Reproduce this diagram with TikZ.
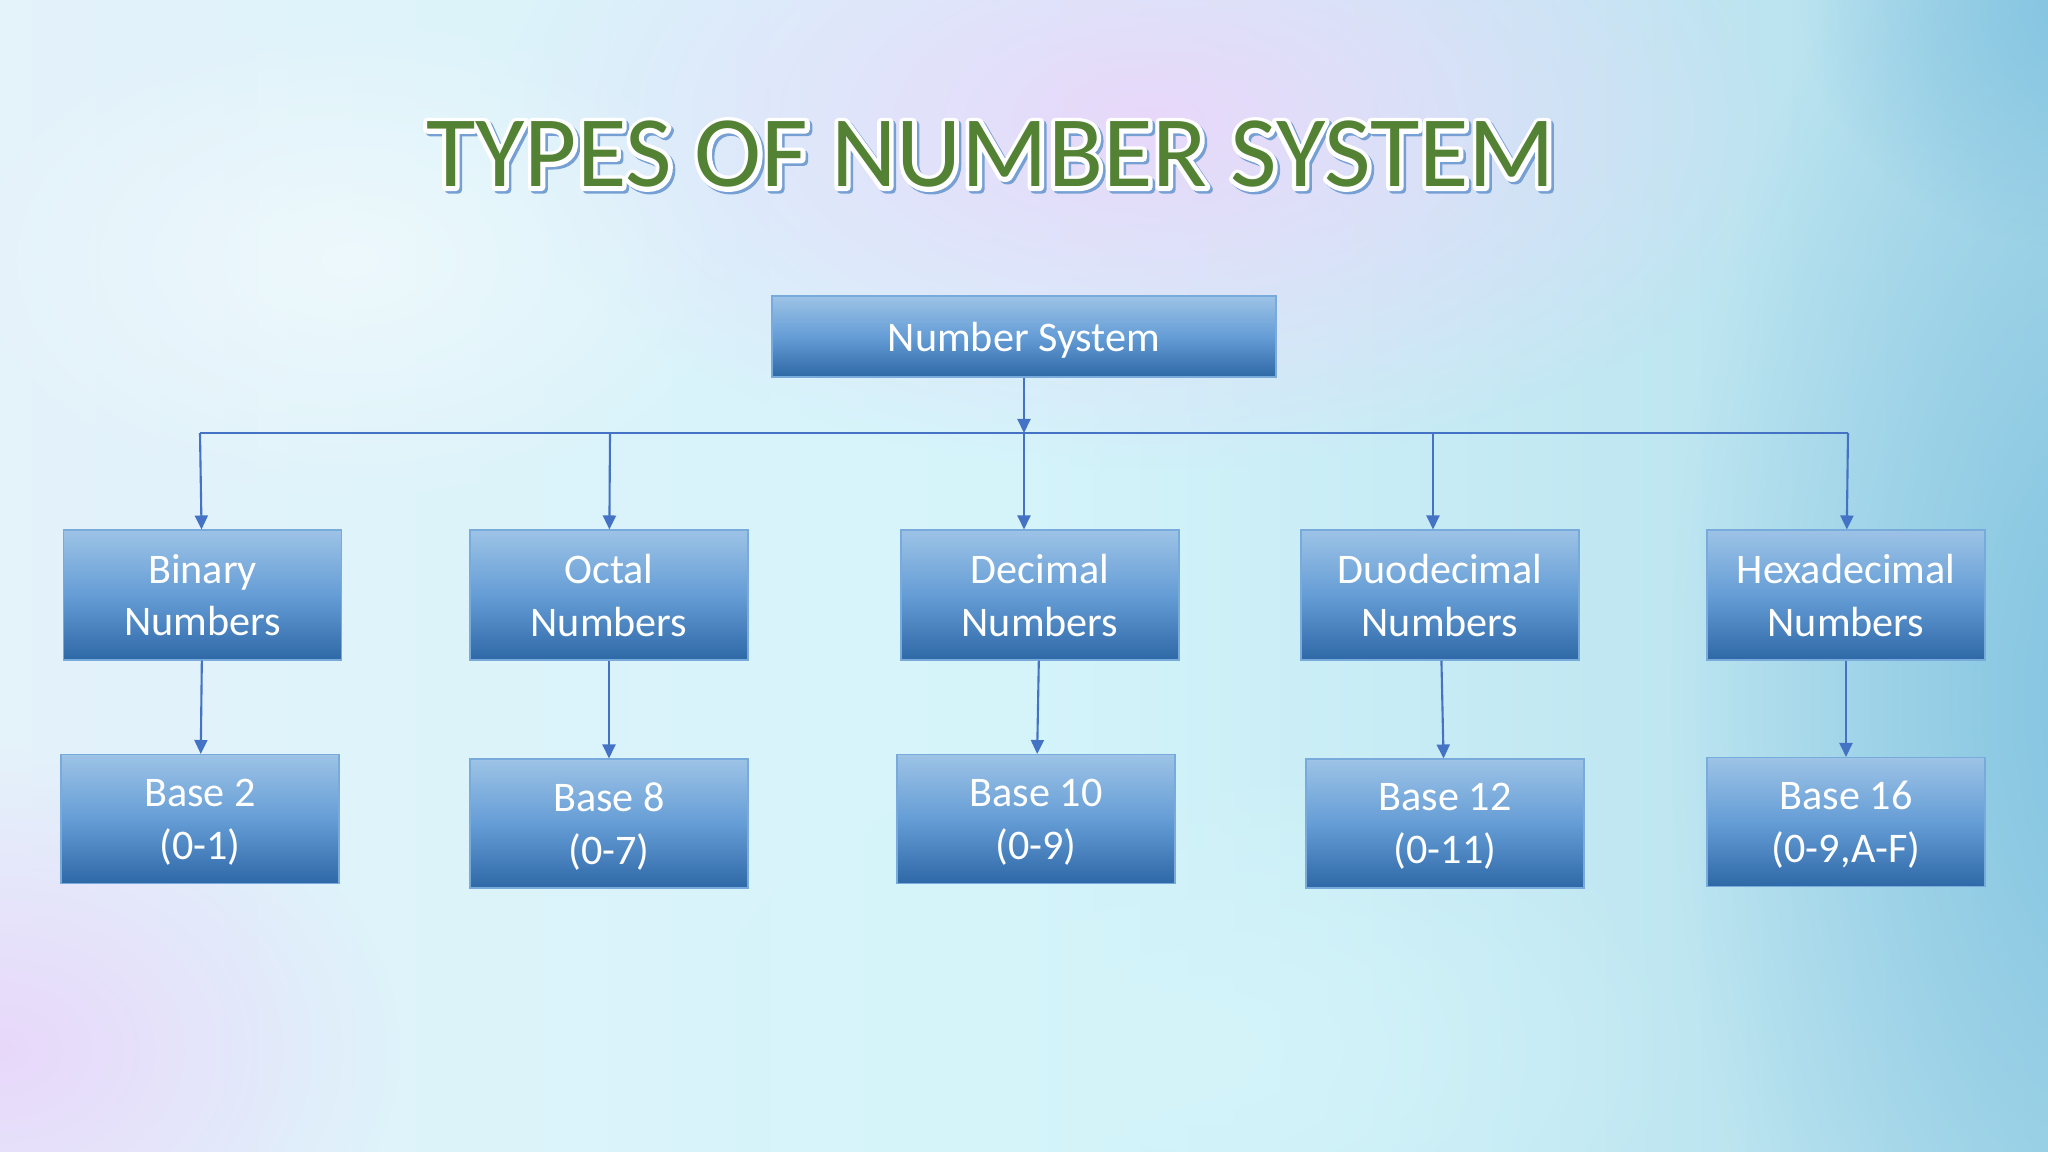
\documentclass[tikz,border=0pt]{standalone}
\usepackage{fontspec}
\setmainfont{Carlito}
\usetikzlibrary{arrows.meta,fadings}

\definecolor{bgleft}{RGB}{228,242,250}
\definecolor{bgmid}{RGB}{212,244,250}
\definecolor{bgright}{RGB}{178,222,236}
\definecolor{lavglow}{RGB}{232,216,250}
\definecolor{deepglow}{RGB}{128,194,224}
\definecolor{boxtop}{RGB}{157,195,230}
\definecolor{boxmid}{RGB}{101,157,214}
\definecolor{boxbot}{RGB}{46,104,166}
\definecolor{boxedge}{RGB}{120,170,220}
\definecolor{linkblue}{RGB}{68,114,196}
\definecolor{titlegreen}{RGB}{84,130,53}
\definecolor{titleshade}{RGB}{118,160,212}

\tikzfading[name=softglow, inner color=transparent!0, outer color=transparent!100]

\newcommand{\boxfont}{\fontsize{12}{15}\selectfont}
\newcommand{\titlefont}{\fontsize{28.8}{32}\selectfont}
% outlined text: pdf render mode fill+stroke
\newcommand{\strokedtext}[2]{\special{pdf:literal direct 2 Tr #1 w 1 j}#2\special{pdf:literal direct 0 Tr 0.4 w}}

\tikzset{
  numbox/.style={rectangle, minimum width=2.78cm, minimum height=1.30cm, inner sep=0pt,
    align=center, text=white, top color=boxtop, bottom color=boxbot, middle color=boxmid,
    draw=boxedge, line width=0.3pt, font=\boxfont, text depth=0pt},
  arr/.style={draw=linkblue, line width=0.6pt, -{Triangle[length=0.14cm,width=0.13cm]}},
  busline/.style={draw=linkblue, line width=0.6pt}
}

\begin{document}
\begin{tikzpicture}
    % Background
    \useasboundingbox (0,0) rectangle (20.48,-11.52);
    \shade[left color=bgleft, right color=bgright, middle color=bgmid] (0,0) rectangle (20.48,-11.52);
    \begin{scope}
        \clip (0,0) rectangle (20.48,-11.52);
        \fill[lavglow, path fading=softglow] (11.5,-1.2) ellipse (6.5 and 3.5);
        \fill[lavglow, path fading=softglow] (0,-10.5) ellipse (4 and 3);
        \fill[deepglow, path fading=softglow] (21.2,-7) ellipse (4.5 and 9);
        \fill[deepglow, path fading=softglow] (21,0) ellipse (3 and 2.5);
        \fill[white, opacity=0.45, path fading=softglow] (3.5,-2.6) ellipse (4 and 2.5);
        \fill[bgmid, path fading=softglow] (12,-10.5) ellipse (5 and 3);
    \end{scope}

    % Title: shadow, outline, fill
    \node[anchor=base, text=titleshade] at (9.935,-1.895) {\titlefont\strokedtext{2.4}{TYPES OF NUMBER SYSTEM}};
    \node[anchor=base, text=white] at (9.91,-1.87) {\titlefont\strokedtext{2.4}{TYPES OF NUMBER SYSTEM}};
    \node[anchor=base, text=titlegreen] (title) at (9.91,-1.87) {\titlefont TYPES OF NUMBER SYSTEM};

    % Root
    \node[numbox, minimum width=5.04cm, minimum height=0.81cm] (ns) at (10.24,-3.365) {Number System};

    % Bus
    \coordinate (bus1) at (2.00,-4.33);
    \coordinate (bus2) at (6.10,-4.33);
    \coordinate (bus3) at (10.24,-4.33);
    \coordinate (bus4) at (14.33,-4.33);
    \coordinate (bus5) at (18.48,-4.33);

    % Kinds
    \node[numbox] (binary) at (2.026,-5.95) {Binary\\Numbers};
    \node[numbox] (octal) at (6.09,-5.95) {Octal\\Numbers};
    \node[numbox] (decimal) at (10.40,-5.95) {Decimal\\Numbers};
    \node[numbox] (duodecimal) at (14.40,-5.95) {Duodecimal\\Numbers};
    \node[numbox] (hexa) at (18.46,-5.95) {Hexadecimal\\Numbers};

    % Bases
    \node[numbox, minimum height=1.29cm] (base2) at (2.00,-8.19) {Base 2\\(0-1)};
    \node[numbox, minimum height=1.29cm] (base8) at (6.09,-8.235) {Base 8\\(0-7)};
    \node[numbox, minimum height=1.29cm] (base10) at (10.36,-8.19) {Base 10\\(0-9)};
    \node[numbox, minimum height=1.29cm] (base12) at (14.45,-8.235) {Base 12\\(0-11)};
    \node[numbox, minimum height=1.29cm] (base16) at (18.46,-8.22) {Base 16\\(0-9,A-F)};

    % Connectors
    \draw[arr] (ns) -- (bus3);
    \draw[busline] (bus1) -- (bus5);
    \draw[arr] (bus1) -- (binary);
    \draw[arr] (bus2) -- (octal);
    \draw[arr] (bus3) -- (bus3 |- decimal.north);
    \draw[arr] (bus4) -- (bus4 |- duodecimal.north);
    \draw[arr] (bus5) -- (hexa);
    \draw[arr] (binary) -- (base2);
    \draw[arr] (octal) -- (base8);
    \draw[arr] (decimal) -- (base10);
    \draw[arr] (duodecimal) -- (base12);
    \draw[arr] (hexa) -- (base16);
\end{tikzpicture}
\end{document}
